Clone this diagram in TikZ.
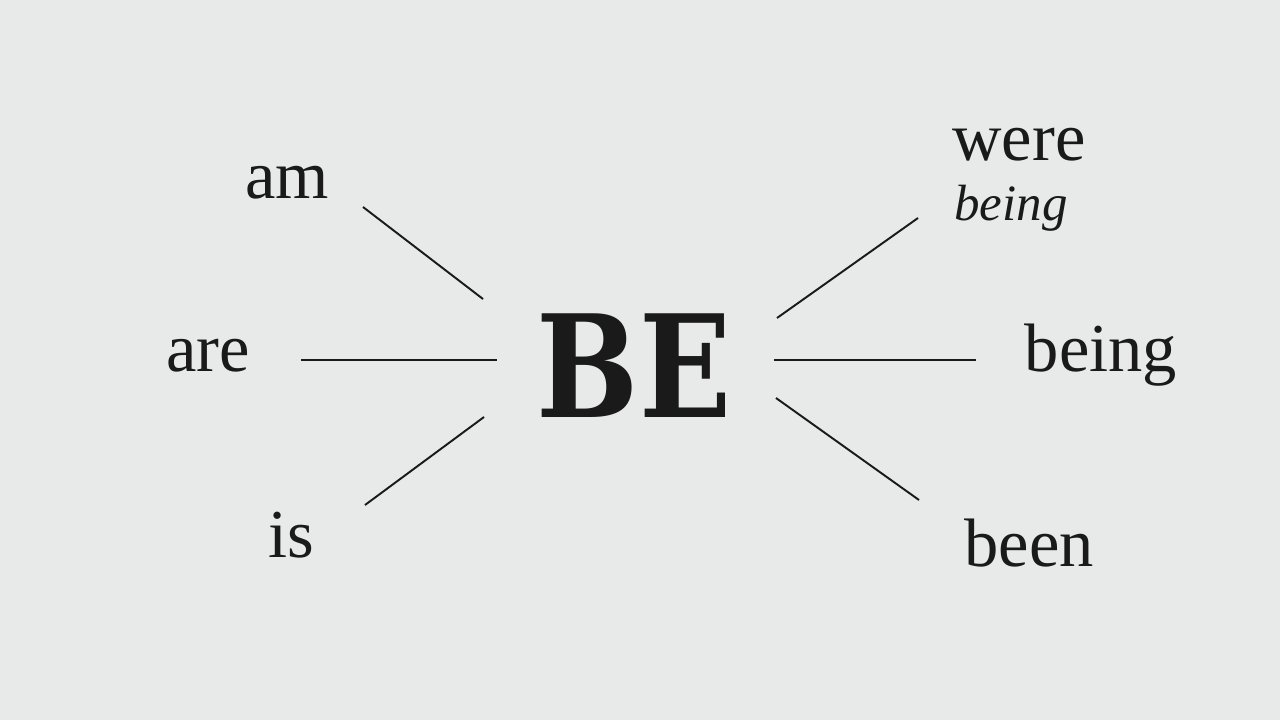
\documentclass[tikz,border=0pt]{standalone}
\usepackage{fontspec}
\usepackage{graphicx}
\setmainfont{Liberation Serif}
\newfontfamily\rootfont{DejaVu Serif}
\definecolor{paper}{HTML}{E8EAEA}
\definecolor{ink}{HTML}{1A1A1A}

\begin{document}
\begin{tikzpicture}[
    x=0.02cm, y=-0.02cm,
    word/.style={text=ink, inner sep=0pt, anchor=base, font=\fontsize{39}{47}\selectfont},
    gloss/.style={text=ink, inner sep=0pt, anchor=base, font=\fontsize{29}{35}\selectfont\itshape},
    root/.style={text=ink, inner sep=0pt, anchor=base, font=\rootfont\fontsize{81}{92}\selectfont\bfseries},
    spoke/.style={draw=ink, line width=1.1pt}
]
    \fill [paper] (0,0) rectangle (1280,720);
    \useasboundingbox (0,0) rectangle (1280,720);

    % centre word
    \node [root] (be) at (634,417) {\scalebox{0.85}[1]{BE}};

    % present forms
    \node [word] (am) at (287,198) {am};
    \node [word] (are) at (208,371) {are};
    \node [word] (is) at (291,557) {is};

    % past and participle forms
    \node [word] (were) at (1019,160) {were};
    \node [gloss] (were-being) at (1011,220) {being};
    \node [word] (being) at (1101,371) {being};
    \node [word] (been) at (1029,566) {been};

    % spoke ends
    \coordinate (am-out) at (363,207);   \coordinate (am-in) at (483,299);
    \coordinate (are-out) at (301,360);  \coordinate (are-in) at (497,360);
    \coordinate (is-out) at (365,505);   \coordinate (is-in) at (484,417);
    \coordinate (were-out) at (918,218); \coordinate (were-in) at (777,318);
    \coordinate (being-out) at (976,360); \coordinate (being-in) at (774,360);
    \coordinate (been-out) at (919,500); \coordinate (been-in) at (776,398);

    \draw [spoke] (am-out) -- (am-in);
    \draw [spoke] (are-out) -- (are-in);
    \draw [spoke] (is-out) -- (is-in);
    \draw [spoke] (were-out) -- (were-in);
    \draw [spoke] (being-out) -- (being-in);
    \draw [spoke] (been-out) -- (been-in);
\end{tikzpicture}
\end{document}
